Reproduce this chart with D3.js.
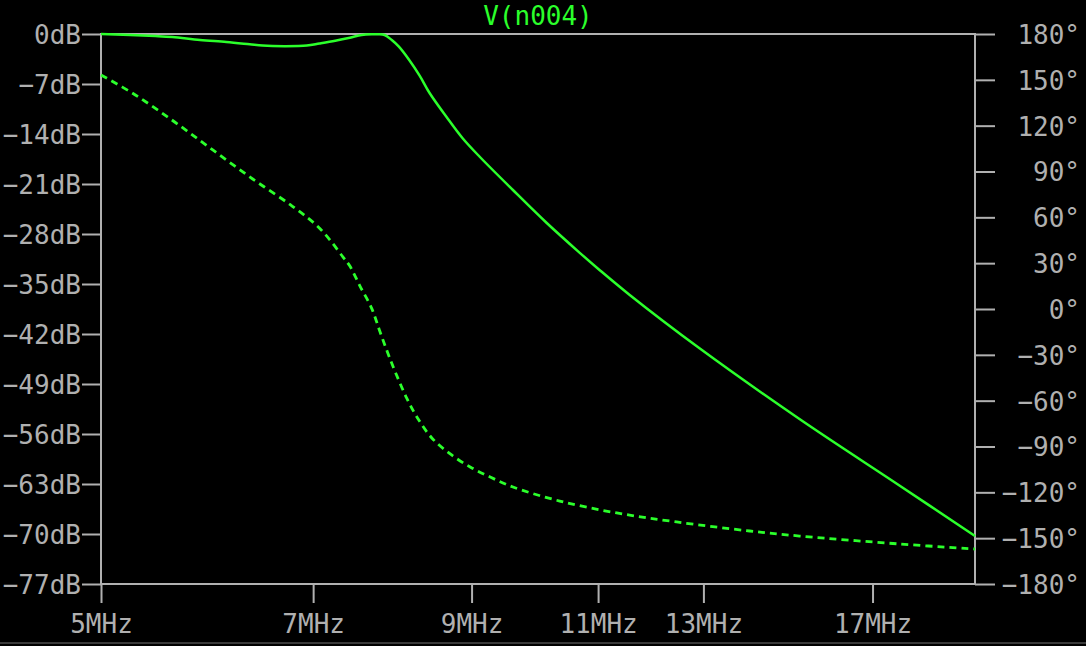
<!DOCTYPE html>
<html><head><meta charset="utf-8">
<script src="https://cdn.jsdelivr.net/npm/d3@7/dist/d3.min.js"></script>
<style>
html,body{margin:0;padding:0;background:#000;}
svg{display:block;}
</style></head>
<body>
<script>
// ---- data ----
const title = "V(n004)";
const xTicks = [5, 7, 9, 11, 13, 17];            // MHz
const dbTicks = [0, -7, -14, -21, -28, -35, -42, -49, -56, -63, -70, -77];
const degTicks = [180, 150, 120, 90, 60, 30, 0, -30, -60, -90, -120, -150, -180];

// magnitude (solid, left axis)
const magFreq = [5.00, 5.45, 5.60, 5.85, 6.10, 6.33, 6.46, 6.69, 6.93, 7.07, 7.25, 7.42, 7.56, 7.68, 7.76, 7.84, 7.93, 8.02, 8.15, 8.29, 8.42, 8.65, 8.87, 9.12, 9.61, 10.14, 10.68, 11.02, 11.56, 12.92, 15.14, 17.74, 20.0];
const magDb   = [0.0, -0.28, -0.42, -0.84, -1.12, -1.44, -1.62, -1.70, -1.62, -1.33, -0.94, -0.52, -0.14, -0.03, -0.03, -0.14, -0.84, -1.77, -3.6, -5.85, -8.26, -11.62, -14.56, -17.22, -21.84, -26.46, -30.6, -33.0, -36.5, -44.0, -53.9, -63.2, -70.28];

// phase (dashed, right axis)
const phFreq = [5.00, 5.28, 5.62, 5.97, 6.36, 6.77, 7.08, 7.34, 7.42, 7.54, 7.68, 7.78, 7.88, 7.99, 8.12, 8.26, 8.45, 8.70, 8.98, 9.27, 9.61, 10.35, 11.33, 12.46, 13.99, 15.14, 17.74, 20.0];
const phDeg  = [153.2, 140.1, 122.4, 104.1, 85.1, 67.4, 52.4, 34.0, 28.1, 15.0, 0.6, -14.4, -28.8, -43.2, -58.3, -71.3, -84.4, -94.9, -103.4, -110.0, -116.5, -125.7, -133.5, -139.4, -145.3, -148.6, -153.8, -157.1];

// ---- layout ----
const W = 1086, H = 646;
const L = 101, R = 975, T = 34, B = 584;
const grey = "#b0b0b0", green = "#2bff2b";
const font = "'DejaVu Sans Mono', monospace";

const svg = d3.select("body").append("svg").attr("width", W).attr("height", H)
  .style("background", "#000");

const x = d3.scaleLog().domain([5, 20]).range([L, R]);
const yDb = d3.scaleLinear().domain([-77, 0]).range([B, T]);
const yDeg = d3.scaleLinear().domain([-180, 180]).range([B, T]);

// frame
svg.append("rect").attr("x", L).attr("y", T).attr("width", R - L).attr("height", B - T)
  .attr("fill", "none").attr("stroke", grey).attr("stroke-width", 2);

function styleAxis(g) {
  g.select(".domain").remove();
  g.selectAll(".tick line").attr("stroke", grey).attr("stroke-width", 2);
  g.selectAll(".tick text").attr("fill", grey).style("font-family", font).style("font-size", "26px");
}

// left axis
svg.append("g").attr("transform", `translate(${L},0)`)
  .call(d3.axisLeft(yDb).tickValues(dbTicks).tickSize(19).tickPadding(1).tickFormat(d => d + "dB"))
  .call(styleAxis)
  .call(g => g.selectAll(".tick text").attr("dy", "0.36em").text(d => (d < 0 ? "\u2212" + (-d) : d) + "dB"));

// right axis
svg.append("g").attr("transform", `translate(${R},0)`)
  .call(d3.axisRight(yDeg).tickValues(degTicks).tickSize(20).tickPadding(0))
  .call(styleAxis)
  .call(g => g.selectAll(".tick text").attr("text-anchor", "end").attr("x", 105).attr("dy", "0.36em")
    .text(d => (d < 0 ? "\u2212" + (-d) : d) + "\u00b0"));

// bottom axis
svg.append("g").attr("transform", `translate(0,${B})`)
  .call(d3.axisBottom(x).tickValues(xTicks).tickSize(19).tickPadding(0).tickFormat(d => d + "MHz"))
  .call(styleAxis)
  .call(g => g.selectAll(".tick text").attr("y", 30).attr("dy", "0.72em"));

// title
svg.append("text").attr("x", (L + R) / 2).attr("y", 25).attr("text-anchor", "middle")
  .attr("fill", green).style("font-family", font).style("font-size", "26px").text(title);

// curves
const magData = magFreq.map((f, i) => [f, magDb[i]]);
const phData = phFreq.map((f, i) => [f, phDeg[i]]);

svg.append("path").datum(magData)
  .attr("d", d3.line().x(d => x(d[0])).y(d => yDb(d[1])).curve(d3.curveCatmullRom.alpha(0.5)))
  .attr("fill", "none").attr("stroke", green).attr("stroke-width", 2.5);

svg.append("path").datum(phData)
  .attr("d", d3.line().x(d => x(d[0])).y(d => yDeg(d[1])).curve(d3.curveCatmullRom.alpha(0.5)))
  .attr("fill", "none").attr("stroke", green).attr("stroke-width", 2.8)
  .attr("stroke-dasharray", "7,5");

// window edge
svg.append("line").attr("x1", 0).attr("x2", W).attr("y1", 643).attr("y2", 643)
  .attr("stroke", "#3a3a3a").attr("stroke-width", 2);
</script>
</body></html>
